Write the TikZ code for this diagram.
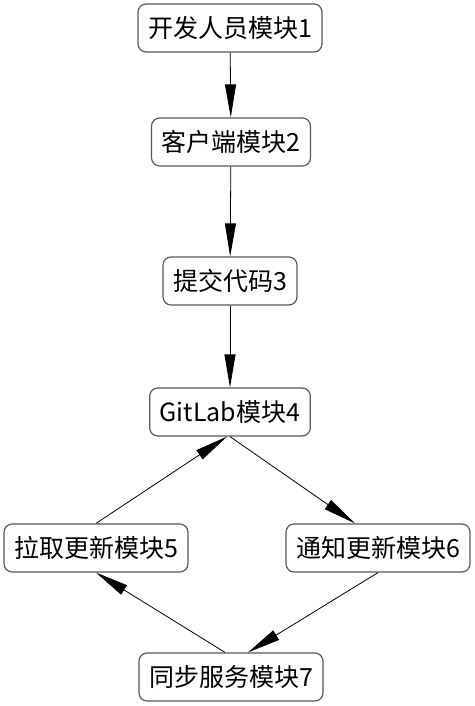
\documentclass[tikz,border=0pt]{standalone}
\usepackage{fontspec}
\setmainfont{Noto Sans CJK SC}
\usetikzlibrary{arrows.meta}
\begin{document}
\begin{tikzpicture}[x=1pt,y=1pt,
  module/.style={rectangle,rounded corners=8pt,draw=black!65,line width=1.2pt,
    minimum height=48pt,inner xsep=10pt,font=\fontsize{25}{29}\selectfont},
  link/.style={-{Triangle[length=33pt,width=11pt]},line width=0.8pt,black}]
\useasboundingbox (0,0) rectangle (474,706);

\node[module] (m1) at (230,678) {开发人员模块1};
\node[module] (m2) at (231,564) {客户端模块2};
\node[module] (m3) at (230,425) {提交代码3};
\node[module] (m4) at (230,294) {GitLab模块4};
\node[module] (m5) at (96,158) {拉取更新模块5};
\node[module] (m6) at (378,158) {通知更新模块6};
\node[module] (m7) at (231,29) {同步服务模块7};

\path [link] (m1) edge (m2);
\path [link] (m2) edge (m3);
\path [link] (m3) edge (m4);
\path [link] (m4.south) edge ([xshift=-23pt]m6.north);
\path [link] (m6.south) edge ([xshift=17pt]m7.north);
\path [link] ([xshift=-6pt]m7.north) edge (m5.south);
\path [link] (m5.north) edge ([xshift=-3pt]m4.south);
\end{tikzpicture}
\end{document}
